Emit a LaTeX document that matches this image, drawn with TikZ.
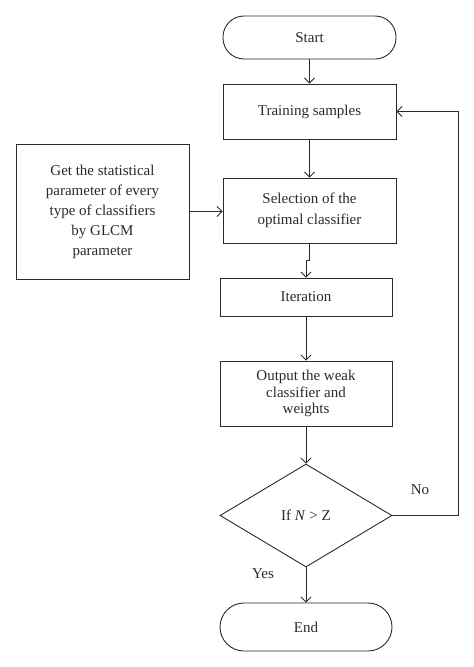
\documentclass[tikz,border=0pt]{standalone}
\usepackage{fontspec}
\setmainfont{Liberation Serif}
\usetikzlibrary{shapes.geometric,arrows.meta}
\definecolor{ink}{HTML}{2A2A2A}
\tikzset{
  box/.style={draw=ink, line width=0.9pt, rectangle, inner sep=0pt, align=center, text=ink, font=\fontsize{15}{20}\selectfont},
  term/.style={box, rounded corners=21pt},
  decision/.style={draw=ink, line width=0.9pt, diamond, inner sep=0pt, text=ink, font=\fontsize{15}{20}\selectfont},
  flow/.style={draw=ink, line width=0.9pt, -{Straight Barb[length=5pt,width=10pt]}},
  lbl/.style={text=ink, font=\fontsize{15}{18}\selectfont}
}
\begin{document}
\begin{tikzpicture}[x=1pt,y=-1pt]
\useasboundingbox (0,0) rectangle (474,667);
\node[term, minimum width=173pt, minimum height=43pt] (start) at (309.5,37.5) {Start};
\node[box, minimum width=173pt, minimum height=55pt] (train) at (309.5,111.5) {Training samples};
\node[box, minimum width=173pt, minimum height=135pt] (glcm) at (102.5,211.5) {Get the statistical\\parameter of every\\type of classifiers\\by GLCM\\parameter};
\node[box, minimum width=173pt, minimum height=65pt, font=\fontsize{15}{21}\selectfont] (sel) at (309.5,210.5) {Selection of the\\optimal classifier};
\node[box, minimum width=172pt, minimum height=38pt] (iter) at (306,297) {Iteration};
\node[box, minimum width=172pt, minimum height=65pt, font=\fontsize{15}{16.5}\selectfont] (out) at (306,393.5) {Output the weak\\classifier and\\weights};
\node[decision, minimum width=172pt, minimum height=103pt] (dec) at (306,515.5) {If \textit{N} > Z};
\node[term, minimum width=172pt, minimum height=48pt, rounded corners=24pt] (end) at (306,627) {End};
\coordinate (fb) at (458,515.5);

\draw[flow] (start) -- (train);
\draw[flow] (train) -- (sel);
\draw[flow] (sel.south) -- ++(0,17) -| (iter.north);
\draw[flow] (glcm.east) -- (sel.west |- glcm.east);
\draw[flow] (iter) -- (out);
\draw[flow] (out) -- (dec);
\draw[flow] (dec) -- (end);
\draw[flow] (dec.east) -- (fb) |- (train.east);

\node[lbl] (no) at (420,490) {No};
\node[lbl] (yes) at (263,574) {Yes};
\end{tikzpicture}
\end{document}
